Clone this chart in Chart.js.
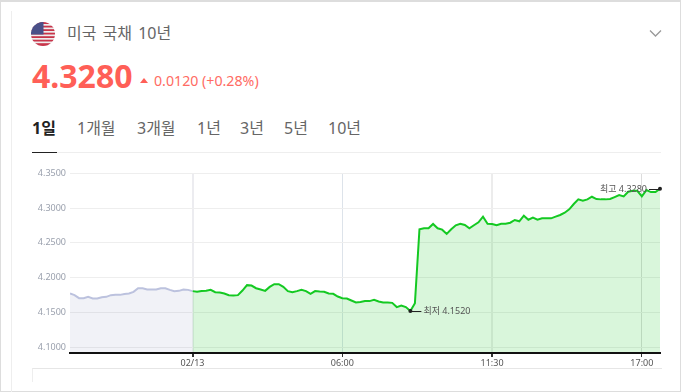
<!DOCTYPE html>
<html lang="ko">
<head>
<meta charset="utf-8">
<title>미국 국채 10년</title>
<script src="https://cdn.jsdelivr.net/npm/chart.js@4"></script>
<style>
  html,body{margin:0;padding:0;background:#fff;}
  body{width:681px;height:392px;position:relative;overflow:hidden;font-family:"Noto Sans","Noto Sans CJK KR",sans-serif;}
  .abs{position:absolute;white-space:nowrap;}
  #frame{left:0;top:0;width:679px;height:389px;border:1px solid #ddd;border-top-width:2px;}
  #inner{left:11px;top:11px;width:0;height:381px;border-left:1px solid #eee;}
  #title{left:67px;top:22px;font-size:16px;line-height:22px;color:#666;word-spacing:2px;}
  #price{left:32px;top:54px;font-size:32px;line-height:44px;font-weight:700;color:#ff5f57;}
  #change{left:154px;top:71px;font-size:14.2px;line-height:20px;color:#ff6b63;}
  #arrow{left:140px;top:78px;width:0;height:0;border-left:4px solid transparent;border-right:4px solid transparent;border-bottom:5px solid #ff5f57;}
  .tab{top:117px;font-size:16px;line-height:22px;color:#666;}
  .tab.on{font-weight:700;color:#222;}
  #tabline{left:32px;top:152px;width:629px;height:1px;background:#eee;}
  #tabon{left:32px;top:152px;width:25px;height:1px;background:#222;}
  #box{left:32px;top:368px;width:629px;height:13px;border-top:1px solid #e6e6e6;border-left:1px solid #eee;}
  canvas{position:absolute;left:0;top:160px;}
</style>
</head>
<body>
<div class="abs" id="frame"></div>
<div class="abs" id="inner"></div>

<svg class="abs" style="left:31px;top:22px" width="24" height="24" viewBox="0 0 24 24">
  <defs><clipPath id="c"><circle cx="12" cy="12" r="12"/></clipPath></defs>
  <g clip-path="url(#c)">
    <rect width="24" height="24" fill="#eee"/>
    <rect y="0" width="24" height="2" fill="#c8354a"/>
    <rect y="3.7" width="24" height="1.8" fill="#c8354a"/>
    <rect y="7.2" width="24" height="1.8" fill="#c8354a"/>
    <rect y="10.7" width="24" height="1.8" fill="#c8354a"/>
    <rect y="14.2" width="24" height="1.8" fill="#c8354a"/>
    <rect y="17.7" width="24" height="1.8" fill="#c8354a"/>
    <rect y="21.2" width="24" height="2.8" fill="#c8354a"/>
    <rect width="12.5" height="12.5" fill="#4a5088"/>
  </g>
</svg>
<div class="abs" id="title">미국 국채 10년</div>
<svg class="abs" style="left:649px;top:29px" width="14" height="9"><path d="M1 1.5 L6.5 7 L12 1.5" fill="none" stroke="#999" stroke-width="1.3"/></svg>

<div class="abs" id="price">4.3280</div>
<div class="abs" id="arrow"></div>
<div class="abs" id="change">0.0120 (+0.28%)</div>

<div class="abs tab on" style="left:32px">1일</div>
<div class="abs tab" style="left:77px">1개월</div>
<div class="abs tab" style="left:137px">3개월</div>
<div class="abs tab" style="left:197px">1년</div>
<div class="abs tab" style="left:240px">3년</div>
<div class="abs tab" style="left:284px">5년</div>
<div class="abs tab" style="left:328px">10년</div>
<div class="abs" id="tabline"></div>
<div class="abs" id="tabon"></div>
<div class="abs" id="box"></div>

<canvas id="chart" width="681" height="215"></canvas>

<script>
/* ===== Data (one point every 10 min) ===== */
const preValues = [
  4.1770,4.1747,4.1704,4.1704,4.1723,4.1700,4.1700,4.1718,4.1723,4.1747,
  4.1751,4.1751,4.1765,4.1770,4.1794,4.1847,4.1847,4.1828,4.1828,4.1828,
  4.1847,4.1847,4.1823,4.1804,4.1809,4.1828,4.1823,4.1805
];
const sessionValues = [
  4.1805,4.1795,4.1805,4.1809,4.1823,4.1790,4.1785,4.1770,4.1747,4.1742,
  4.1747,4.1813,4.1891,4.1885,4.1847,4.1828,4.1809,4.1866,4.1905,4.1905,
  4.1866,4.1805,4.1790,4.1805,4.1823,4.1805,4.1766,4.1805,
  4.1799,4.1795,4.1770,4.1766,4.1727,4.1703,4.1698,4.1670,4.1641,4.1647,
  4.1661,4.1661,4.1680,4.1655,4.1641,4.1641,4.1636,4.1575,4.1598,4.1575,
  4.1520,4.1632,
  4.2695,4.2710,4.2710,4.2772,4.2710,4.2690,4.2628,4.2695,4.2753,4.2776,
  4.2757,4.2710,4.2753,4.2796,4.2877,4.2776,4.2772,4.2753,4.2776,4.2776,
  4.2790,4.2829,4.2810,4.2891,4.2833,4.2862,
  4.2833,4.2853,4.2853,4.2853,4.2877,4.2901,4.2934,4.2983,4.3059,4.3126,
  4.3106,4.3126,4.3164,4.3131,4.3126,4.3126,4.3131,4.3159,4.3188,4.3169,
  4.3236,4.3250,4.3250,4.3169,4.3260,4.3231,4.3231,4.3280
];
const sessionStart = 27;   // index of 02/13
const lastIndex = 130;

const xTickPos = [27, 60, 93, 126];
const xTickLabels = ['02/13', '06:00', '11:30', '17:00'];
const xGridColors = ['#ececf0', '#dde3ea', '#ececec', '#dcdcdc'];
const xGridWidths = [2, 1, 2, 1];
const yTicks = [4.10, 4.15, 4.20, 4.25, 4.30, 4.35];

const lowLabel = '최저 4.1520';
const highLabel = '최고 4.3280';

const preData = preValues.map((v, i) => ({ x: i, y: v }));
const sessionData = sessionValues.map((v, i) => ({ x: i + sessionStart, y: v }));

/* ===== High / low markers ===== */
const extremesPlugin = {
  id: 'extremes',
  afterDatasetsDraw(chart){
    const { ctx, scales: { x, y } } = chart;
    const vals = sessionValues;
    const lowI = vals.indexOf(Math.min(...vals));
    const highI = vals.lastIndexOf(Math.max(...vals));
    const marks = [
      { i: lowI, text: lowLabel, dir: 1 },
      { i: highI, text: highLabel, dir: -1 }
    ];
    ctx.save();
    ctx.font = '9px "Noto Sans","Noto Sans CJK KR",sans-serif';
    ctx.textBaseline = 'middle';
    marks.forEach(m => {
      const px = x.getPixelForValue(m.i + sessionStart);
      const py = y.getPixelForValue(vals[m.i]);
      ctx.strokeStyle = '#222';
      ctx.lineWidth = 1;
      ctx.beginPath();
      ctx.moveTo(px, Math.round(py) + 0.5);
      ctx.lineTo(px + m.dir * 11, Math.round(py) + 0.5);
      ctx.stroke();
      ctx.fillStyle = '#222';
      ctx.beginPath();
      ctx.arc(px, py, 2, 0, Math.PI * 2);
      ctx.fill();
      ctx.fillStyle = '#555';
      ctx.textAlign = m.dir > 0 ? 'left' : 'right';
      ctx.fillText(m.text, px + m.dir * 13, py + 0.5);
    });
    ctx.restore();
  }
};

/* ===== Chart ===== */
new Chart(document.getElementById('chart').getContext('2d'), {
  type: 'line',
  data: {
    datasets: [
      { data: preData, borderColor: '#bcc2de', borderWidth: 2, pointRadius: 0, tension: 0,
        fill: 'start', backgroundColor: 'rgba(70,80,150,0.075)' },
      { data: sessionData, borderColor: '#14c922', borderWidth: 2, pointRadius: 0, tension: 0,
        fill: 'start', backgroundColor: 'rgba(20,200,30,0.16)' }
    ]
  },
  plugins: [extremesPlugin],
  options: {
    responsive: false,
    animation: false,
    devicePixelRatio: 1,
    layout: { padding: { top: 13.4, right: 21, left: 0, bottom: 0 } },
    plugins: { legend: { display: false }, tooltip: { enabled: false } },
    scales: {
      x: {
        type: 'linear',
        min: 0,
        max: lastIndex,
        afterBuildTicks: s => { s.ticks = xTickPos.map(v => ({ value: v })); },
        afterFit: s => { s.height = 22; },
        grid: {
          color: c => xGridColors[c.index],
          lineWidth: c => xGridWidths[c.index],
          tickColor: '#333',
          tickLength: 4,
          drawOnChartArea: true
        },
        border: { color: '#111', width: 2, z: 5 },
        ticks: {
          autoSkip: false,
          maxRotation: 0,
          padding: 1,
          color: '#555',
          font: { size: 9, family: '"Noto Sans","Noto Sans CJK KR",sans-serif' },
          callback: (v) => xTickLabels[xTickPos.indexOf(v)]
        }
      },
      y: {
        min: 4.0914,
        max: 4.35,
        afterBuildTicks: s => { s.ticks = yTicks.map(v => ({ value: v })); },
        afterFit: s => { s.width = 70; },
        grid: { color: '#eeeeee', lineWidth: 1, drawTicks: false },
        border: { display: false },
        ticks: {
          padding: 4,
          color: '#9aa0ad',
          font: { size: 9, family: '"Noto Sans","Noto Sans CJK KR",sans-serif' },
          callback: v => v.toFixed(4)
        }
      }
    }
  }
});
</script>
</body>
</html>
